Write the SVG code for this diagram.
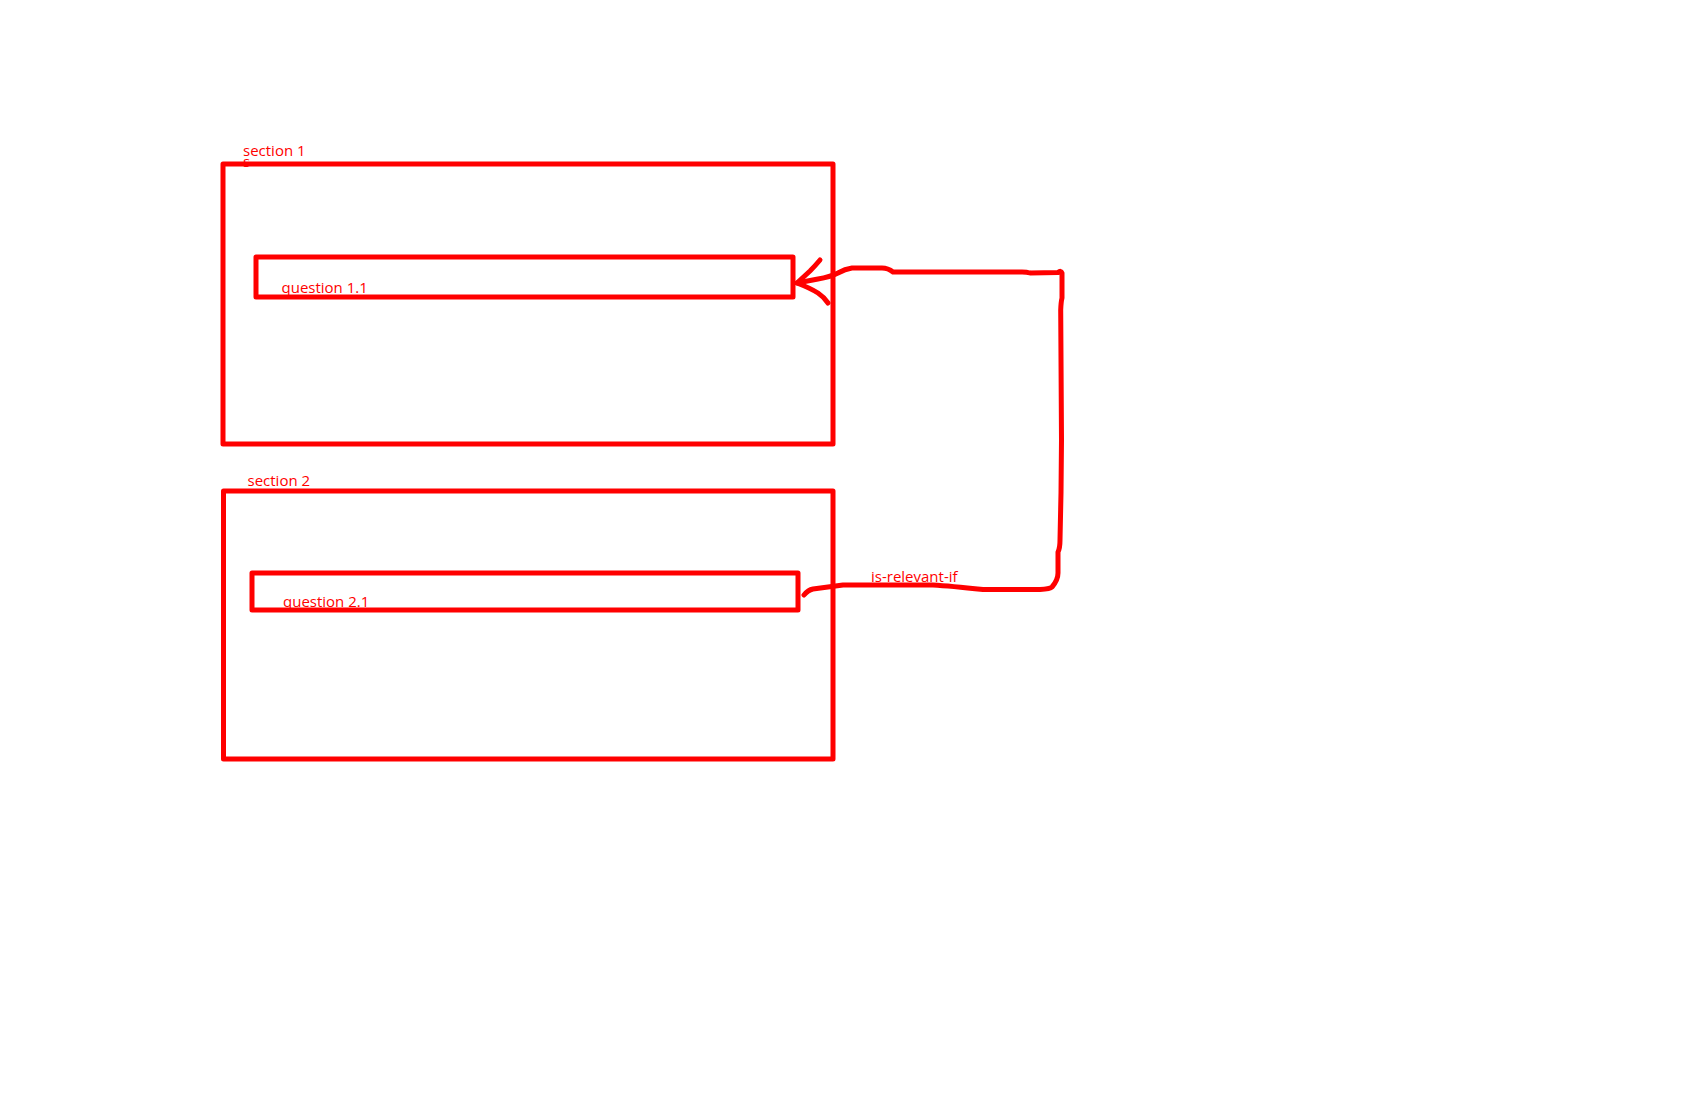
<svg xmlns="http://www.w3.org/2000/svg" width="1694" height="1102" viewBox="0 0 1694 1102">
<style>
.box{fill:none;stroke:#ff0000;stroke-width:5;stroke-linejoin:round;stroke-linecap:round}
.ln{fill:none;stroke:#ff0000;stroke-width:5;stroke-linejoin:round;stroke-linecap:round}
.lbl{fill:#ff0000;font-family:"Open Sans","Noto Sans","DejaVu Sans",sans-serif;font-size:15px}
</style>
<rect width="1694" height="1102" fill="#ffffff"/>
<g id="section1">
<text class="lbl" x="243" y="167">s</text>
<rect class="box" x="223" y="164" width="610" height="280"/>
<text class="lbl" x="243" y="156">section 1</text>
</g>
<g id="question11">
<rect class="box" x="256" y="257" width="537" height="40"/>
<text class="lbl" x="281.5" y="293">question 1.1</text>
</g>
<g id="section2">
<rect class="box" x="223.5" y="491" width="609.5" height="268"/>
<text class="lbl" x="247.5" y="486">section 2</text>
</g>
<g id="question21">
<rect class="box" x="252" y="573" width="546" height="37"/>
<text class="lbl" x="283" y="607">question 2.1</text>
</g>
<g id="connectors">
<path class="ln" d="M804,595 Q808,590 813,589 L843,585 L933,585 Q950,586 983,589.5 L1040,589.5 Q1050,589 1052,587 Q1058,580 1058,573 L1058,552 Q1060,548 1060,540 L1061,493 L1061.5,440 L1060.7,310 Q1061,302 1062,298 L1062,273 Q1061,270 1058,272.5 L1030,273 Q1027,272 1022,272 L893,272 Q888,268 882,268 L852,268 Q845,269 838,273 Q830,277 818,279 L797,283"/>
<path class="ln" d="M820,260 Q815,266 810,271 L797,283 Q810,288 818,293 Q824,297 828,303"/>
<text class="lbl" x="871" y="582">is-relevant-if</text>
</g>
</svg>
